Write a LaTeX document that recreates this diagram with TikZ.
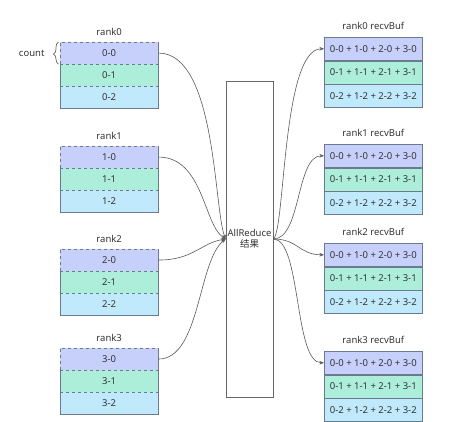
\documentclass[tikz,border=0pt]{standalone}
\usepackage{fontspec}
\setmainfont{Noto Sans}
\newfontfamily\cjk{Noto Sans CJK SC}
\usetikzlibrary{arrows.meta, positioning, decorations.pathreplacing}
\definecolor{cellA}{HTML}{C6D0FA}
\definecolor{cellB}{HTML}{ADEEDA}
\definecolor{cellC}{HTML}{C0E9FB}
\definecolor{edge}{HTML}{6B7A8C}
\definecolor{ink}{HTML}{333333}

\begin{document}
\begin{tikzpicture}[x=1pt, y=-1pt,
    every node/.style={font=\fontsize{9.5}{11.5}\selectfont, text=ink},
    cell/.style={minimum width=98pt, minimum height=21.7pt, inner sep=0pt, anchor=north west},
    rcell/.style={cell, draw=edge, line width=0.6pt, minimum height=23pt},
    bord/.style={draw=edge, line width=0.6pt},
    lk/.style={-{Stealth[length=4.5pt, width=3.6pt]}, draw=black!65, line width=0.6pt}
]
\useasboundingbox (0,0) rectangle (474,421);

% send buffers of the ranks
\foreach \i/\t in {0/42, 1/146, 2/249, 3/348} {
  \node[cell, fill=cellA] (s\i0) at (60,\t) {\i-0};
  \node[cell, fill=cellB, below=0pt of s\i0] (s\i1) {\i-1};
  \node[cell, fill=cellC, below=0pt of s\i1] (s\i2) {\i-2};
  \draw[bord, dashed] (s\i0.south west) |- (s\i0.north east);
  \draw[bord] (s\i0.north east) |- (s\i2.south west) -- (s\i0.south west);
  \draw[bord, dashed] (s\i0.south west) -- (s\i0.south east);
  \draw[bord, dashed] (s\i1.south west) -- (s\i1.south east);
  \node[above=3pt of s\i0] (ls\i) {rank\i};
}

% recvBuf of the ranks
\foreach \i/\t in {0/37, 1/144, 2/243, 3/351} {
  \node[rcell, fill=cellA] (r\i0) at (324,\t) {0-0 + 1-0 + 2-0 + 3-0};
  \node[rcell, fill=cellB, below=0pt of r\i0] (r\i1) {0-1 + 1-1 + 2-1 + 3-1};
  \node[rcell, fill=cellC, below=0pt of r\i1] (r\i2) {0-2 + 1-2 + 2-2 + 3-2};
  \node[above=3.5pt of r\i0] (lr\i) {rank\i{} recvBuf};
}

% result box
\node[draw=black!60, line width=0.6pt, minimum width=47pt, minimum height=316pt,
      align=center, inner sep=0pt] (res) at (249.5,239) {AllReduce\\{\cjk 结果}};

% count brace
\draw[draw=black!60, line width=0.7pt, decorate, decoration={brace, amplitude=5pt, aspect=0.45}]
  ([xshift=-1.5pt]s00.south west) -- ([xshift=-1.5pt]s00.north west);
\node[left=12pt of s00.west] (cnt) {count};

% into the result
\draw[lk] (s00.east) .. controls +(58,0) and +(-12,-30) .. (res.west);
\draw[lk] (s10.east) .. controls +(45,0) and +(-22,-14) .. (res.west);
\draw[lk] (s20.east) .. controls +(35,0) and +(-25,4) .. (res.west);
\draw[lk] (s30.east) .. controls +(42,0) and +(-28,22) .. (res.west);

% out of the result
\draw[lk] (res.east) .. controls +(12,-8) and +(-42,0) .. (r00.west);
\draw[lk] (res.east) .. controls +(28,0) and +(-28,0) .. (r10.west);
\draw[lk] (res.east) .. controls +(25,0) and +(-25,0) .. (r20.west);
\draw[lk] (res.east) .. controls +(28,0) and +(-30,0) .. (r30.west);
\end{tikzpicture}
\end{document}
